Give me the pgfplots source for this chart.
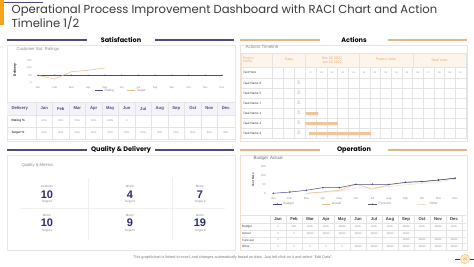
\documentclass[border=0pt]{standalone}
\usepackage{pgfplots}
\pgfplotsset{compat=1.18}
\usepackage{fontspec}
\setmainfont{Liberation Sans}
\newfontfamily\pop{Poppins}
\newcommand\fs[1]{\fontsize{#1}{#1}\selectfont}
\definecolor{navy}{HTML}{4D4B7E}
\definecolor{tanl}{HTML}{DDB68A}
\definecolor{titlec}{HTML}{3A3A3A}
\definecolor{txtgray}{HTML}{8A8A8A}
\definecolor{boxc}{HTML}{E6E6EE}
\definecolor{tanbox}{HTML}{F0E2D0}
\definecolor{gridc}{HTML}{E4E4E4}
\definecolor{hdrbg}{HTML}{F3F3F9}
\definecolor{ganttbg}{HTML}{FDF5EC}
\definecolor{orahdr}{HTML}{E4A867}
\definecolor{barc}{HTML}{F1C59C}
\definecolor{numc}{HTML}{2E2D6D}
\definecolor{actc}{HTML}{E3BE8E}
\definecolor{forc}{HTML}{5A5A6A}
\definecolor{othc}{HTML}{EFDCC4}
\definecolor{titleor}{HTML}{F6A21E}
\begin{document}
\begin{tikzpicture}[x=1pt,y=1pt]
\useasboundingbox (0,0) rectangle (474,-266);
\fill[white] (0,0) rectangle (474,-266);
\coordinate (satpos) at (38,-82.7);
\coordinate (ganttpos) at (305.5,-138.5);
\coordinate (oppos) at (273.3,-193.3);
% ---------- title
\fill[titleor] (0,0) rectangle (3.5,-25);
\draw[navy,line width=1.3pt] (3.5,-2.5) -- (43,-2.5);
\node[anchor=base west,inner sep=0,text=titlec,font=\pop\fs{11.6}] at (11.5,-13.5) {Operational Process Improvement Dashboard with RACI Chart and Action};
\node[anchor=base west,inner sep=0,text=titlec,font=\pop\fs{11.6}] at (11.5,-27.5) {Timeline 1/2};
% ---------- boxes
\draw[boxc,line width=0.4pt] (7,-45) rectangle (235,-141);
\draw[boxc,line width=0.4pt] (7,-155) rectangle (235,-250);
\draw[tanbox,line width=0.4pt] (240,-45) rectangle (467,-141);
\draw[tanbox,line width=0.4pt] (240,-155) rectangle (467,-250);
% ---------- section headers
\draw[navy,line width=1.5pt] (7,-40) -- (87,-40) (155,-40) -- (234,-40);
\node[font=\pop\bfseries\fs{6.5}] at (121,-40) {Satisfaction};
\draw[navy,line width=1.5pt] (7,-150) -- (87,-150) (155,-150) -- (234,-150);
\node[font=\pop\bfseries\fs{6.5}] at (121,-150) {Quality \& Delivery};
\draw[tanl,line width=1.5pt] (240,-40) -- (320,-40) (388,-40) -- (467,-40);
\node[font=\pop\bfseries\fs{6.5}] at (354,-40) {Actions};
\draw[tanl,line width=1.5pt] (240,-150) -- (320,-150) (388,-150) -- (467,-150);
\node[font=\pop\bfseries\fs{6.5}] at (354,-150) {Operation};
% ---------- satisfaction chart
\node[anchor=west,font=\fs{4.2},text=txtgray] at (13,-49) {Customer Sat. Ratings};
\node[rotate=90,font=\bfseries\fs{3.2}] at (15,-70) {Delivery};
\begin{axis}[at={(satpos)}, anchor=south west, scale only axis, width=184pt, height=22pt,
  xmin=0,xmax=11,ymin=0,ymax=150, clip=false,
  axis line style={draw=none}, major tick length=0pt,
  xtick={0,...,11}, xticklabels={Jan,Feb,Mar,Apr,May,Jun,Jul,Aug,Sep,Oct,Nov,Dec},
  ytick={0,50,100,150},
  ticklabel style={font=\fs{2.6}, text=txtgray},
  /pgf/number format/assume math mode=true,
  yticklabel style={xshift=-3pt}]
\addplot[navy, line width=0.5pt, mark=*, mark size=0.5pt] coordinates {(0,50)(1,50)(2,50)(3,50)(4,50)(5,50)(6,50)(7,50)(8,50)(9,50)(10,50)(11,50)};
\addplot[actc, line width=0.5pt] coordinates {(0,50)(1,25)(2,75)(3,85)(4,100)};
\end{axis}
\draw[navy,line width=0.5pt] (95,-90.5) -- (103,-90.5); \fill[navy] (99,-90.5) circle (0.5pt);
\node[anchor=west,font=\fs{3.2},text=txtgray,inner sep=0.5pt] at (104,-90.5) {Rating};
\draw[actc,line width=0.5pt] (127,-90.5) -- (135,-90.5);
\node[anchor=west,font=\fs{3.2},text=txtgray,inner sep=0.5pt] at (136,-90.5) {Target};
% ---------- satisfaction table
\fill[hdrbg] (7,-102) rectangle (235,-115);
\foreach \yy in {102,115,127,139} \draw[gridc,line width=0.3pt] (7,-\yy) -- (235,-\yy);
\foreach \k in {0,...,11} \draw[gridc,line width=0.3pt] ({36+16.5*\k},-102) -- ({36+16.5*\k},-139);
\node[anchor=west,font=\bfseries\fs{4.2},text=navy] at (8,-108.5) {Delivery};
\foreach \m [count=\i from 0] in {Jan,Feb,Mar,Apr,May,Jun,Jul,Aug,Sep,Oct,Nov,Dec}
  \node[font=\bfseries\fs{4.2},text=navy] at ({44.25+16.5*\i},-108.5) {\m};
\node[anchor=west,font=\bfseries\fs{3.1},text=titlec] at (8,-121) {Rating \%};
\node[anchor=west,font=\bfseries\fs{3.1},text=titlec] at (8,-133) {Target \%};
\foreach \v [count=\i from 0] in {90\%,90\%,90\%,95\%,100\%,0}
  \node[font=\fs{2.5},text=txtgray] at ({44.25+16.5*\i},-121) {\v};
\foreach \i in {0,...,11}
  \node[font=\fs{2.5},text=txtgray] at ({44.25+16.5*\i},-133) {90\%};
% ---------- quality metrics
\node[anchor=west,font=\fs{4.2},text=txtgray] at (18,-165) {Quality \& Metrics};
\draw[gray!12,line width=0.3pt] (88,-178) -- (88,-240) (172,-178) -- (172,-240) (20,-208) -- (225,-208);
\foreach \x/\y/\lab/\num in {47/186.5/Incidents/10, 130/186.5/Metric/4, 200/186.5/Metric/7, 47/215/Metric/10, 130/215/Metric/9, 200/215/Metric/19}{
  \node[font=\fs{3},text=txtgray] at (\x,-\y) {\lab};
  \node[font=\bfseries\fs{11},text=numc] at (\x,{-\y-8}) {\num};
  \node[font=\fs{3},text=txtgray] at (\x,{-\y-15.5}) {Target 0};
}
% ---------- actions / gantt
\node[anchor=west,font=\fs{4.5},text=txtgray] at (242,-47) {Actions Timeline};
\fill[ganttbg] (241,-53) rectangle (466,-67.5);
\foreach \yy in {53,67.5,78,88,98,108,118,128,138.5} \draw[gridc,line width=0.3pt] (241,-\yy) -- (466,-\yy);
\foreach \xx in {241,272.5,305.5,359,412.7,466} \draw[gridc,line width=0.3pt] (\xx,-53) -- (\xx,-67.5);
\foreach \xx in {241,272.5,283.5,294.5} \draw[gridc,line width=0.3pt] (\xx,-67.5) -- (\xx,-138.5);
\foreach \k in {0,...,15} \draw[gridc,line width=0.3pt] ({305.5+10.7*\k},-67.5) -- ({305.5+10.7*\k},-138.5);
\node[anchor=west,font=\fs{3.4},text=orahdr,align=left,inner sep=1pt] at (242,-60) {Project\\Name};
\node[font=\fs{3.6},text=orahdr] at (289,-60) {Days};
\node[font=\fs{3.6},text=orahdr,align=center] at (332,-60) {Dec 02 2022\\Jun 15 2022};
\node[font=\fs{3.6},text=orahdr] at (385.8,-60) {Project View};
\node[font=\fs{3.6},text=orahdr] at (439.3,-60) {Task View};
\foreach \t/\yy in {Text Here/72.8, Task Name 6/83, Task Name 5/93, Task Name 7/103, Task Name 1/113, Task Name 2/123, Task Name 3/133}
  \node[anchor=west,font=\fs{3.1},text=titlec,inner sep=1pt] at (242,-\yy) {\t};
\foreach \xx in {278,289,300} \node[font=\fs{2.5},text=txtgray] at (\xx,-72.8) {-};
\foreach \v [count=\i from 0] in {27,28,29,30,31,01,02,03,04,05,06,07,08,09,10}
  \node[font=\fs{2.2},text=txtgray] at ({305.5+10.7*\i+5.35},-72.8) {\v};
\foreach \yy in {83,93,103,113,123,133}
  \node[font=\fs{2.3},text=txtgray,align=left,inner sep=0] at (299,-\yy) {To\\Do};
\begin{axis}[at={(ganttpos)}, anchor=south west, scale only axis, width=160.5pt, height=30pt,
  xmin=0,xmax=15,ymin=0,ymax=3, hide axis, xbar stacked, bar width=3pt]
\addplot[draw=none, fill=none] coordinates {(0.35,0.5)(0,1.5)(0,2.5)};
\addplot[draw=none, fill=barc] coordinates {(5.75,0.5)(3.0,1.5)(1.2,2.5)};
\end{axis}
% ---------- operation chart
\node[anchor=west,font=\fs{4.5},text=txtgray!80!black] at (250,-158) {Budget\enspace Actual};
\node[rotate=90,font=\bfseries\fs{3},text=titlec] at (253,-180) {Text Here};
\begin{axis}[at={(oppos)}, anchor=south west, scale only axis, width=181.7pt, height=26.6pt,
  xmin=0,xmax=11,ymin=0,ymax=150, clip=false,
  axis line style={draw=none}, major tick length=0pt,
  xtick={0,...,11}, xticklabels={Jan,Feb,Mar,Apr,May,Jun,Jul,Aug,Sep,Oct,Nov,Dec},
  ytick={0,50,100,150},
  ticklabel style={font=\fs{2.8}, text=txtgray},
  /pgf/number format/assume math mode=true,
  xticklabel style={yshift=-1pt},
  yticklabel style={xshift=-4pt}]
\addplot[othc, line width=0.5pt] coordinates {(2,0)(3,5)(4,12)(5,30)(6,30)(7,38)(8,48)(9,56)(10,66)(11,80)};
\addplot[actc, line width=0.5pt] coordinates {(2,0)(3,8)(4,17)(5,51)(6,23)(7,48)(8,60)};
\addplot[forc, line width=0.4pt, mark=*, mark size=0.45pt] coordinates {(8,62)(9,66)(10,75)(11,85)};
\addplot[navy, line width=0.5pt, mark=*, mark size=0.5pt] coordinates {(0,0)(1,7)(2,17)(3,32)(4,32)(5,51)(6,51)(7,50)(8,62)(9,66)(10,75)(11,85)};
\end{axis}
\draw[navy,line width=0.5pt] (273,-203.8) -- (282,-203.8); \fill[navy] (277.5,-203.8) circle (0.5pt);
\node[anchor=west,font=\fs{3.2},text=txtgray,inner sep=0.5pt] at (283,-203.8) {Budget};
\draw[actc,line width=0.5pt] (322,-203.8) -- (330,-203.8);
\node[anchor=west,font=\fs{3.2},text=txtgray,inner sep=0.5pt] at (331.5,-203.8) {Actual};
\draw[forc,line width=0.4pt] (368,-203.8) -- (377,-203.8); \fill[forc] (372.5,-203.8) circle (0.45pt);
\node[anchor=west,font=\fs{3.2},text=txtgray,inner sep=0.5pt] at (378,-203.8) {Forecast};
\draw[othc,line width=0.5pt] (417,-203.8) -- (426,-203.8);
\node[anchor=west,font=\fs{3.2},text=txtgray,inner sep=0.5pt] at (429,-203.8) {Other};
% ---------- operation table
\foreach \yy in {215,223,230,236.7,243.3,250} \draw[gridc,line width=0.3pt] (241,-\yy) -- (466,-\yy);
\foreach \k in {0,...,12} \draw[gridc,line width=0.3pt] ({270+16*\k},-215) -- ({270+16*\k},-250);
\foreach \m [count=\i from 0] in {Jan,Feb,Mar,Apr,May,Jun,Jul,Aug,Sep,Oct,Nov,Dec}
  \node[font=\bfseries\fs{4.2},text=titlec] at ({278+16*\i},-219) {\m};
\foreach \t/\yy in {Budget/226.6, Actual/233.3, Forecast/240, Other/246.6}
  \node[anchor=west,font=\fs{3},text=titlec,inner sep=1pt] at (241,-\yy) {\t};
\foreach \v [count=\i from 0] in {0,500,2000,4000,10000,5000,2000,4000,10000,3500,31200,5000}
  \node[font=\fs{2.5},text=txtgray] at ({278+16*\i},-226.6) {\v};
\foreach \v [count=\i from 0] in {0,0,10000,10000,10000,10000,10000,10000,10000}
  \node[font=\fs{2.5},text=txtgray] at ({278+16*\i},-233.3) {\v};
\node[font=\fs{2.5},text=txtgray] at (278,-240) {0};
\foreach \i in {8,...,11}
  \node[font=\fs{2.5},text=txtgray] at ({278+16*\i},-240) {10000};
\foreach \v [count=\i from 0] in {0,0,0,0,0,10000,10000,10000,10000,10000,10000,10000}
  \node[font=\fs{2.5},text=txtgray] at ({278+16*\i},-246.6) {\v};
% ---------- footer
\node[font=\fs{3.8},text=txtgray!90!black] at (233,-258) {This graph/chart is linked to excel, and changes automatically based on data. Just left click on it and select “Edit Data”.};
\draw[titlec,line width=0.8pt] (455,-259) -- (460,-259) (470,-259) -- (474,-259);
\filldraw[draw=titleor!70,fill=titleor!20,line width=0.4pt] (465,-259) circle (4.6pt);
\node[font=\fs{3.4},text=titleor!90!black] at (465,-259) {29};
\end{tikzpicture}
\end{document}
